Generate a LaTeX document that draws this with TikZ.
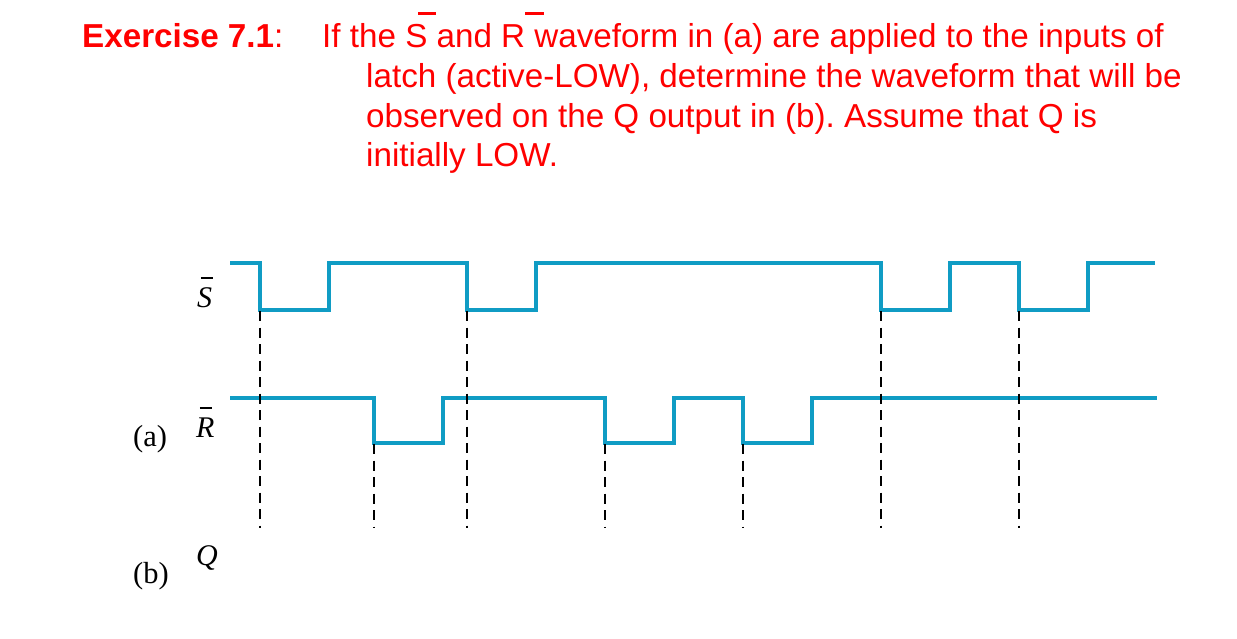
\documentclass[tikz,border=0pt]{standalone}
\usepackage{fontspec}
\setmainfont{Liberation Sans}
\newfontfamily\timesfont{Liberation Serif}
\definecolor{wave}{RGB}{16,156,196}
\definecolor{titlered}{RGB}{255,0,0}
\newcommand\tbar[2]{\rlap{\kern#1\raisebox{0.97em}{\rule{0.55em}{0.09em}}}#2}
\newcommand\lbar[1]{\rlap{\kern0.12em\raisebox{0.92em}{\rule{0.42em}{0.075em}}}#1}
\begin{document}
\begin{tikzpicture}[x=1pt,y=-1pt,
  txt/.style={anchor=base west,inner sep=0pt,text=titlered,font=\fontsize{33.2}{39.3}\selectfont},
  lbl/.style={anchor=base west,inner sep=0pt,font=\timesfont\itshape\fontsize{30}{31}\selectfont},
  tag/.style={anchor=base west,inner sep=0pt,font=\timesfont\fontsize{30.5}{32}\selectfont},
  wavepath/.style={draw=wave,line width=3.4pt,line join=miter},
  guide/.style={draw=black,line width=1.8pt,dash pattern=on 10pt off 6.5pt}]
\useasboundingbox (0,0) rectangle (1237,638);
\fill[white] (0,0) rectangle (1237,638);
% title
\node[txt] (ex) at (82,47) {\textbf{Exercise 7.1}:};
\node[txt] (l1) at (322,47) {\frenchspacing If the \tbar{0.39em}{S} and \tbar{0.73em}{R} waveform in (a) are applied to the inputs of};
\node[txt] (l2) at (366,87) {\frenchspacing latch (active-LOW), determine the waveform that will be};
\node[txt] (l3) at (366,127) {\frenchspacing observed on the Q output in (b). Assume that Q is};
\node[txt] (l4) at (366,166) {\frenchspacing initially LOW.};
% labels
\node[lbl] (sl) at (197,307) {\lbar{S}};
\node[lbl] (rl) at (196,437) {\lbar{R}};
\node[lbl] (ql) at (196,565) {Q};
\node[tag] (a) at (133,446) {(a)};
\node[tag] (b) at (133,583) {(b)};
% S waveform
\path[wavepath] (230,263) -- (260,263) -- (260,310) -- (329,310) -- (329,263)
  -- (467,263) -- (467,310) -- (536,310) -- (536,263)
  -- (881,263) -- (881,310) -- (950,310) -- (950,263)
  -- (1019,263) -- (1019,310) -- (1088,310) -- (1088,263) -- (1155,263);
% R waveform
\path[wavepath] (230,398) -- (374,398) -- (374,443) -- (443,443) -- (443,398)
  -- (605,398) -- (605,443) -- (674,443) -- (674,398)
  -- (743,398) -- (743,443) -- (812,443) -- (812,398) -- (1157,398);
% guide lines
\foreach \x in {260,467,881,1019} \draw[guide] (\x,311) -- (\x,528);
\foreach \x in {374,605,743} \draw[guide] (\x,444) -- (\x,528);
\end{tikzpicture}
\end{document}
